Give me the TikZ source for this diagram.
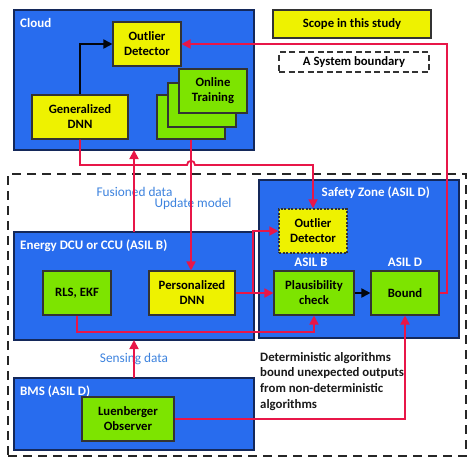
\documentclass[tikz,border=0pt]{standalone}
\usepackage{fontspec}
\setmainfont{Carlito}
\usetikzlibrary{arrows.meta}
\definecolor{zoneblue}{RGB}{40,108,238}
\definecolor{navy}{RGB}{20,40,90}
\definecolor{boxyellow}{RGB}{238,242,0}
\definecolor{boxgreen}{RGB}{125,228,0}
\definecolor{linkred}{RGB}{232,22,72}
\definecolor{lblblue}{RGB}{60,130,222}
\tikzset{
  zone/.style={draw=navy, fill=zoneblue, line width=1.2pt, rectangle, inner sep=0pt},
  ybox/.style={draw=black!80, fill=boxyellow, line width=1.1pt, rectangle, align=center, inner sep=0pt, font=\bfseries\fontsize{12.7}{15}\selectfont},
  gbox/.style={draw=black!80, fill=boxgreen, line width=1.1pt, rectangle, align=center, inner sep=0pt, font=\bfseries\fontsize{12.7}{15}\selectfont},
  zlabel/.style={text=white, font=\bfseries\fontsize{13}{15}\selectfont, inner sep=0pt},
  flow/.style={draw=linkred, line width=1.8pt},
  flowarr/.style={flow, -{Triangle[length=9pt,width=9pt]}},
  blackarr/.style={draw=black!85!navy, line width=1.8pt, -{Triangle[length=9pt,width=9pt]}},
  blbl/.style={text=lblblue, font=\fontsize{13.3}{15}\selectfont, inner sep=0pt},
}
\begin{document}
\begin{tikzpicture}[x=1pt,y=-1pt, font=\fontsize{13}{15.5}\selectfont]
\useasboundingbox (0,0) rectangle (474,467);
% system boundary
\node[draw=black!85, line width=2pt, dash pattern=on 9pt off 6pt, minimum width=458pt, minimum height=282pt, inner sep=0pt] (sysb) at (237,315) {};
% zones
\node[zone, minimum width=240pt, minimum height=140pt] (cloud) at (134,80) {};
\node[zlabel, anchor=west] (cloudlbl) at (20,23) {Cloud};
\node[zone, minimum width=200pt, minimum height=158pt] (safety) at (359,259) {};
\node[zlabel, anchor=east] (safelbl) at (430,193) {Safety Zone (ASIL D)};
\node[zone, minimum width=240pt, minimum height=108pt] (energy) at (134,286) {};
\node[zlabel, anchor=west] (enlbl) at (20,246) {Energy DCU or CCU (ASIL B)};
\node[zone, minimum width=240pt, minimum height=72pt] (bms) at (134,414) {};
\node[zlabel, anchor=west] (bmslbl) at (20,392) {BMS (ASIL D)};
% legend
\node[ybox, minimum width=158pt, minimum height=28pt] (scope) at (352,24) {Scope in this study};
\node[draw=black!80, line width=1.3pt, dash pattern=on 6pt off 3.5pt, minimum width=150pt, minimum height=20pt, inner sep=0pt, font=\bfseries\fontsize{12.7}{15}\selectfont] (legb) at (354,62) {A System boundary};
% cloud boxes
\node[ybox, minimum width=68pt, minimum height=44pt] (od1) at (147,44) {Outlier\\Detector};
\node[ybox, minimum width=96pt, minimum height=44pt] (gdnn) at (80,117) {Generalized\\DNN};
\node[gbox, minimum width=68pt, minimum height=44pt] (ot3) at (191,117) {};
\node[gbox, minimum width=68pt, minimum height=44pt] (ot2) at (202,105) {};
\node[gbox, minimum width=68pt, minimum height=44pt] (ot1) at (213,91) {Online\\Training};
% safety boxes
\node[ybox, dash pattern=on 2pt off 1.6pt, line width=1.5pt, minimum width=68pt, minimum height=44pt] (od2) at (313,231) {Outlier\\Detector};
\node[zlabel] (asilb) at (311,262) {ASIL B};
\node[zlabel] (asild) at (405,262) {ASIL D};
\node[gbox, minimum width=80pt, minimum height=44pt] (plaus) at (314,293) {Plausibility\\check};
\node[gbox, minimum width=68pt, minimum height=44pt] (bound) at (405,293) {Bound};
% energy boxes
\node[gbox, minimum width=68pt, minimum height=44pt] (rls) at (77,293) {RLS, EKF};
\node[ybox, minimum width=86pt, minimum height=44pt] (pdnn) at (192,293) {Personalized\\DNN};
% bms box
\node[gbox, minimum width=92pt, minimum height=44pt] (luen) at (128,419) {Luenberger\\Observer};
% labels
\node[blbl] (fus) at (134.5,192) {Fusioned data};
\node[blbl] (upd) at (193,204) {Update model};
\node[blbl] (sens) at (134,359) {Sensing data};
\node[anchor=north west, align=left, inner sep=0pt, text=black!90, font=\bfseries\fontsize{12.8}{15.7}\selectfont] (note) at (260,352) {Deterministic algorithms\\bound unexpected outputs\\from non-deterministic\\algorithms};
% coordinates
\coordinate (tr) at (447,44);
\coordinate (br) at (447,293);
\coordinate (ga) at (80,165);
\coordinate (gb) at (187,165);
\coordinate (gc) at (195,165);
\coordinate (gd) at (313,165);
\coordinate (fa) at (134,232);
\coordinate (fb) at (134,150);
\coordinate (sa) at (253,293);
\coordinate (sb) at (253,231);
\coordinate (ra) at (77,332);
\coordinate (rb) at (314,332);
\coordinate (ba) at (134,378);
\coordinate (bb) at (134,340);
% connectors
\draw[blackarr] (gdnn.north) |- (od1.west);
\draw[flowarr] (bound.east) -- (br) -- (tr) -- (od1.east);
\draw[flowarr] (gdnn.south) -- (ga) -- (gb) .. controls (187,159.5) and (195,159.5) .. (gc) -- (gd) -- (od2.north);
\draw[flowarr] (fa) -- (fb);
\draw[flowarr] (ot3.south) -- (ot3.south |- pdnn.north);
\draw[flowarr] (pdnn.east) -- (plaus.west);
\draw[flowarr] (sa) -- (sb) -- (od2.west);
\draw[flowarr] (rls.south) -- (ra) -- (rb) -- (plaus.south);
\draw[flowarr] (luen.east) -| (bound.south);
\draw[flowarr] (ba) -- (bb);
\draw[blackarr] (plaus.east) -- (bound.west);
\end{tikzpicture}
\end{document}
